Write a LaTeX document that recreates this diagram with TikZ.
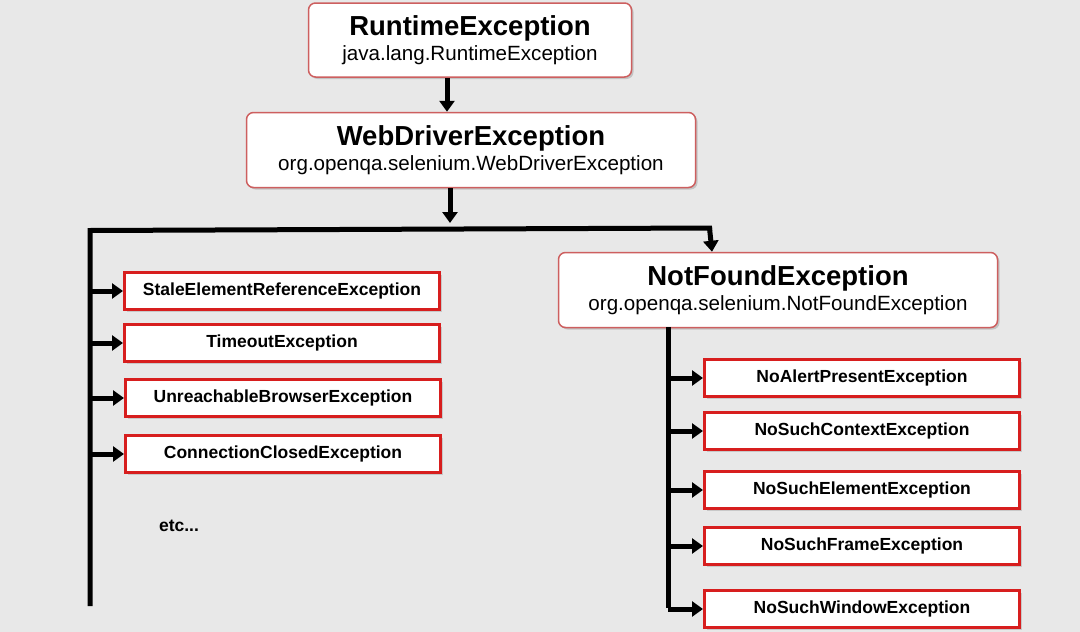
\documentclass[tikz,border=0pt]{standalone}
\usepackage{fontspec}
\setmainfont{Liberation Sans}
\usetikzlibrary{arrows.meta,shadows}

\definecolor{bggray}{RGB}{232,232,232}
\definecolor{pinkline}{RGB}{205,95,95}
\definecolor{exred}{RGB}{215,30,30}

\begin{document}
\begin{tikzpicture}[x=1pt, y=-1pt,
	bigbox/.style={draw=pinkline, line width=1.5pt, fill=white, rounded corners=7pt,
		drop shadow={opacity=0.35, shadow xshift=2pt, shadow yshift=-2pt},
		align=center, inner sep=0pt},
	smallbox/.style={draw=exred, line width=3pt, fill=white, minimum width=315pt,
		minimum height=37pt, inner sep=0pt,
		drop shadow={opacity=0.3, shadow xshift=2pt, shadow yshift=-2pt},
		font=\fontsize{17.5}{20}\selectfont\bfseries},
	link/.style={line width=5pt, -{Triangle[length=11pt, width=15pt]}},
	bus/.style={line width=5pt}]
	\fill[bggray] (0,0) rectangle (1080,632);
	\useasboundingbox (0,0) rectangle (1080,632);

	\begin{scope}[every node/.style={bigbox}]
		\node[minimum width=323pt, minimum height=74pt] (RE) at (470,40)
			{{\fontsize{27.5}{30}\selectfont\bfseries RuntimeException}\\[4pt]
			 {\fontsize{20.6}{23}\selectfont java.lang.RuntimeException}};
		\node[minimum width=449pt, minimum height=75pt] (WDE) at (471,150)
			{{\fontsize{27.5}{30}\selectfont\bfseries WebDriverException}\\[4pt]
			 {\fontsize{20.6}{23}\selectfont org.openqa.selenium.WebDriverException}};
		\node[minimum width=439pt, minimum height=75pt] (NFE) at (778,290)
			{{\fontsize{27.5}{30}\selectfont\bfseries NotFoundException}\\[4pt]
			 {\fontsize{20.6}{23}\selectfont org.openqa.selenium.NotFoundException}};
	\end{scope}

	\begin{scope}[every node/.style={smallbox}]
		% left column
		\node (SERE) at (282,291) {StaleElementReferenceException};
		\node (TOE) at (282,343) {TimeoutException};
		\node (UBE) at (283,398) {UnreachableBrowserException};
		\node (CCE) at (283,454) {ConnectionClosedException};
		% right column
		\node (NAPE) at (862,378) {NoAlertPresentException};
		\node (NSCE) at (862,431) {NoSuchContextException};
		\node (NSEE) at (862,490) {NoSuchElementException};
		\node (NSFE) at (862,546) {NoSuchFrameException};
		\node (NSWE) at (862,609) {NoSuchWindowException};
	\end{scope}

	\node[font=\fontsize{17.5}{20}\selectfont\bfseries] (etc) at (179,526) {etc...};

	\coordinate (busL) at (90,228);
	\coordinate (busR) at (712,228);
	\coordinate (leftEnd) at (90,606);
	\coordinate (rightTop) at (668,327);
	\coordinate (rightEnd) at (668,608);

	\begin{scope}
		\draw[link] (RE.south -| 447,0) -- (WDE.north -| 447,0);
		\draw[link] (WDE.south -| 450,0) -- (450,223);
		\draw[bus] (leftEnd) -- ([yshift=-2.5pt]busL) -- (busR);
		\draw[link] ([xshift=-2.5pt]busR) -- (busR |- NFE.north);
		\draw[bus] (rightTop) -- (rightEnd);

		\draw[link] (SERE.west -| busL) -- (SERE.west);
		\draw[link] (TOE.west -| busL) -- (TOE.west);
		\draw[link] (UBE.west -| busL) -- (UBE.west);
		\draw[link] (CCE.west -| busL) -- (CCE.west);

		\draw[link] (NAPE.west -| rightTop) -- (NAPE.west);
		\draw[link] (NSCE.west -| rightTop) -- (NSCE.west);
		\draw[link] (NSEE.west -| rightTop) -- (NSEE.west);
		\draw[link] (NSFE.west -| rightTop) -- (NSFE.west);
		\draw[link] (NSWE.west -| rightTop) -- (NSWE.west);
	\end{scope}
\end{tikzpicture}
\end{document}
